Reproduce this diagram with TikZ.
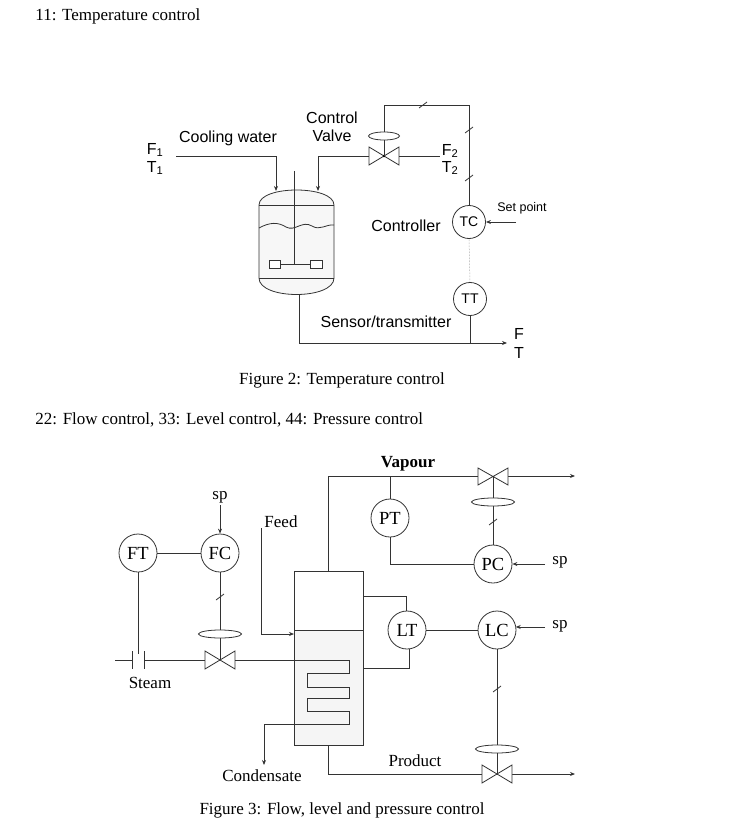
\documentclass[tikz,border=0pt]{standalone}
\usepackage{fontspec}
\setmainfont{Liberation Serif}
\newfontfamily\arialf{Liberation Sans}
\usetikzlibrary{arrows.meta,shapes.geometric}
\begin{document}
\begin{tikzpicture}[x=1pt,y=-1pt,line width=0.8pt,
  ln/.style={draw=black!80},
  arr/.style={ln,-{Stealth[length=5pt,width=4pt]}},
  ins/.style={circle,draw=black!80,minimum size=33pt,inner sep=0pt,font=\arialf\fontsize{14}{15}\selectfont},
  insb/.style={circle,draw=black!80,minimum size=38pt,inner sep=0pt,font=\fontsize{18.5}{19}\selectfont},
  lbs/.style={font=\arialf\fontsize{16}{17.5}\selectfont,inner sep=0pt},
  lbt/.style={font=\fontsize{17}{18}\selectfont,inner sep=0pt},
  act/.style={ellipse,draw=black!80,minimum width=31pt,minimum height=8pt,inner sep=0pt}]
\useasboundingbox (0,0) rectangle (743,821);
\newcommand\valvedraw[4]{%
  \draw[ln] (#1-#3,#2-#4) -- (#1-#3,#2+#4) -- (#1+#3,#2-#4) -- (#1+#3,#2+#4) -- cycle;}
% titles
\node[lbt,anchor=west] (t1) at (35,16) {11: Temperature control};
\node[lbt,anchor=west] (t2) at (35,420) {22: Flow control, 33: Level control, 44: Pressure control};
\node[lbt] (c1) at (342,380) {Figure 2: Temperature control};
\node[lbt] (c2) at (342,810) {Figure 3: Flow, level and pressure control};
% ---------- top figure
\node[lbs] (f1) at (155,150) {F\textsubscript{1}};
\node[lbs] (t1l) at (155,168) {T\textsubscript{1}};
\node[lbs] (cw) at (228,138) {Cooling water};
\node[lbs,align=center] (cv) at (332,127) {Control\\Valve};
\node[lbs] (f2) at (450,151) {F\textsubscript{2}};
\node[lbs] (t2l) at (450,168) {T\textsubscript{2}};
% vessel
\draw[ln,fill=black!3] (259,205) .. controls (259,185) and (334,185) .. (334,205) -- (334,278) .. controls (334,300) and (259,300) .. (259,278) -- cycle;
\draw[ln] (259,205) -- (334,205);
\draw[ln] (259,278) -- (334,278);
\draw[ln] (259,228) .. controls (270,222) and (278,222) .. (286,227) .. controls (295,232) and (302,220) .. (312,226) .. controls (320,231) and (326,224) .. (334,225);
\draw[ln] (294,171) -- (294,264);
\draw[ln] (280,264) -- (310,264);
\draw[ln,fill=white] (269,260) rectangle (280,268);
\draw[ln,fill=white] (310,260) rectangle (322,268);
\coordinate (in1) at (276,191);
\coordinate (in2) at (318,191);
\draw[arr] (176,156) -| (in1);
% valve
\coordinate (cvv) at (384,156);
\valvedraw{384}{156}{15}{9}
\fill (cvv) circle (1.3pt);
\node[act] (cva) at (384,136) {};
\draw[ln] (cvv) -- (cva);
\draw[arr] (369,156) -| (in2);
\draw[ln] (399,156) -- (440,156);
% controller
\node[ins] (tc) at (469,222) {TC};
\node[ins] (tt) at (470,299) {TT};
\draw[ln] (cva.north) -- (384,105) -- (469,105) -- (tc.north);
\foreach \p in {(423,105),(469,130),(469,178)} \draw[ln] \p ++(-4,3) -- ++(8,-6);
\node[lbs,font=\arialf\fontsize{12.5}{13}\selectfont] (spt) at (522,208) {Set point};
\draw[arr] (516,222) -- (tc.east);
\node[lbs] (ctl) at (406,226) {Controller};
\draw[ln,densely dotted,draw=black!50,line width=0.5pt] (tc.south) -- (tt.north);
\coordinate (outE) at (507,343);
\draw[arr] (299,294) -- (299,343) -- (outE);
\draw[ln] (tt.south) -- (470,343);
\node[lbs] (sen) at (386,322) {Sensor/transmitter};
\node[lbs] (fo) at (519,334) {F};
\node[lbs] (to) at (519,353) {T};
% ---------- bottom figure
\draw[ln] (294,571) rectangle (363,745);
\draw[ln,fill=black!4] (294,630) rectangle (363,745);
\coordinate (vap) at (575,476);
\draw[arr] (328,571) -- (328,476) -- (vap);
\draw[ln,fill=white] (478,468) -- (478,485) -- (508,468) -- (508,485) -- cycle;
\node[lbt,font=\bfseries\fontsize{17}{18}\selectfont] (vl) at (408,464) {Vapour};
\node[insb] (pt) at (390,518) {PT};
\node[insb] (pc) at (493,564) {PC};
\draw[ln] (390,476) -- (pt.north);
\draw[ln] (pt.south) -- (390,564) -- (pc.west);
\node[act,minimum width=43pt] (pva) at (493,502) {};
\draw[ln] (493,476) -- (pva.north);
\draw[ln] (pva.south) -- (pc.north);
\draw[ln] (489,525) -- (497,519);
\draw[arr] (545,564) -- (pc.east);
\node[lbt] (sp1) at (560,562) {sp};
% feed
\node[lbt] (fd) at (281,522) {Feed};
\draw[arr] (261,528) -- (261,634) -- (294,634);
% flow
\node[insb] (ft) at (138,553) {FT};
\node[insb] (fc) at (220,553) {FC};
\draw[ln] (ft) -- (fc);
\node[lbt] (sp0) at (220,497) {sp};
\draw[arr] (220,505) -- (fc.north);
\node[act,minimum width=43pt] (fva) at (220,634) {};
\draw[ln] (fc.south) -- (fva.north);
\draw[ln] (216,600) -- (224,594);
\draw[ln] (fva.south) -- (220,660);
\draw[ln,fill=white] (205,651) -- (205,669) -- (235,651) -- (235,669) -- cycle;
\draw[ln] (115,660) -- (132,660);
\draw[ln] (132,651) -- (132,669);
\draw[ln] (144,651) -- (144,669);
\draw[ln] (144,660) -- (205,660);
\draw[ln] (ft.south) -- (138,654);
\node[lbt] (stm) at (150,683) {Steam};
% coil
\coordinate (cond) at (264,765);
\draw[ln] (235,660) -- (349,660) -- (349,673) -- (307,673) -- (307,687) -- (349,687) -- (349,698) -- (307,698) -- (307,711) -- (349,711) -- (349,724) -- (264,724);
\draw[arr] (264,724) -- (cond);
\node[lbt] (cnd) at (262,776) {Condensate};
% level
\node[insb] (lt) at (407,630) {LT};
\node[insb] (lc) at (497,630) {LC};
\draw[ln] (363,596) -- (406,596) -- (406,611);
\draw[ln] (409,649) -- (409,668) -- (363,668);
\draw[ln] (lt) -- (lc);
\draw[arr] (545,627) -- (515.7,627);
\node[lbt] (sp2) at (560,626) {sp};
\node[act,minimum width=43pt] (lva) at (497,749) {};
\draw[ln] (lc.south) -- (lva.north);
\draw[ln] (493,692) -- (501,686);
\draw[ln] (lva.south) -- (497,774);
\coordinate (prod) at (575,774);
\draw[arr] (328,745) -- (328,774) -- (prod);
\draw[ln,fill=white] (482,765) -- (482,783) -- (512,765) -- (512,783) -- cycle;
\node[lbt] (pr) at (415,761) {Product};
\end{tikzpicture}
\end{document}
